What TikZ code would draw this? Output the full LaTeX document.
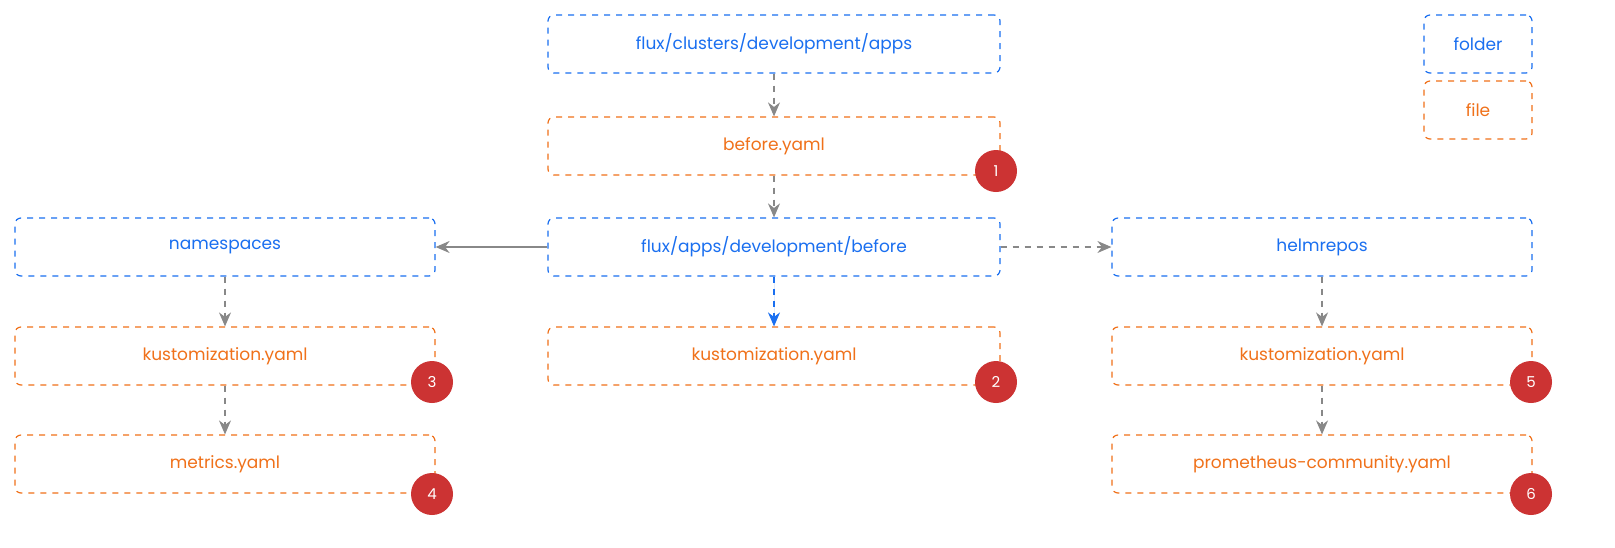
\documentclass[tikz,border=0pt]{standalone}
\usepackage{fontspec}
\setmainfont{Poppins}
\usetikzlibrary{arrows.meta}
\definecolor{fold}{HTML}{1A6FF0}
\definecolor{fil}{HTML}{F0711A}
\definecolor{badge}{HTML}{CC3333}
\definecolor{conn}{HTML}{888888}
\tikzset{
  box/.style={draw, dashed, rounded corners=3pt, line width=0.6pt, minimum height=29pt, font=\fontsize{8.5}{10}\selectfont},
  folder/.style={box, draw=fold, text=fold},
  file/.style={box, draw=fil, text=fil},
  num/.style={circle, fill=badge, text=white, minimum size=21pt, inner sep=0pt, font=\fontsize{7.5}{9}\selectfont},
  link/.style={-{Stealth[length=7pt,width=6pt]}, line width=0.6pt, draw=conn}
}
\begin{document}
\begin{tikzpicture}[x=0.5pt, y=-0.5pt]
\path[fill=white, use as bounding box] (0,0) rectangle (1615,547);

\node[folder, minimum width=226pt] (top) at (774,44) {flux/clusters/development/apps};
\node[file, minimum width=226pt] (before) at (774,146) {before.yaml};
\node[folder, minimum width=226pt] (apps) at (774,247) {flux/apps/development/before};
\node[folder, minimum width=210pt] (ns) at (225,247) {namespaces};
\node[folder, minimum width=210pt] (helm) at (1322,247) {helmrepos};
\node[file, minimum width=226pt] (kmid) at (774,356) {kustomization.yaml};
\node[file, minimum width=210pt] (kleft) at (225,356) {kustomization.yaml};
\node[file, minimum width=210pt] (metrics) at (225,464) {metrics.yaml};
\node[file, minimum width=210pt] (kright) at (1322,356) {kustomization.yaml};
\node[file, minimum width=210pt] (prom) at (1322,464) {prometheus-community.yaml};

% legend
\node[folder, minimum width=54pt] (lfolder) at (1478,44) {folder};
\node[file, minimum width=54pt] (lfile) at (1478,110) {file};

% badges
\node[num] (n1) at (996,171) {1};
\node[num] (n2) at (996,382) {2};
\node[num] (n3) at (432,382) {3};
\node[num] (n4) at (432,494) {4};
\node[num] (n5) at (1531,382) {5};
\node[num] (n6) at (1531,494) {6};

\draw[link, dashed] (top) -- (before);
\draw[link, dashed] (before) -- (apps);
\draw[link] (apps) -- (ns);
\draw[link, dashed] (apps) -- (helm);
\draw[link, dashed, draw=fold, fill=fold] (apps) -- (kmid);
\draw[link, dashed] (ns) -- (kleft);
\draw[link, dashed] (kleft) -- (metrics);
\draw[link, dashed] (helm) -- (kright);
\draw[link, dashed] (kright) -- (prom);
\end{tikzpicture}
\end{document}
